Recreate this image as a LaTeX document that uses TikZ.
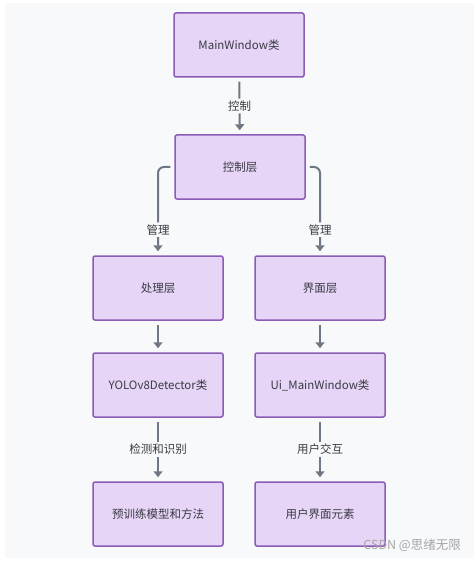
\documentclass[tikz,border=0pt]{standalone}
\usepackage{fontspec}
\setmainfont{Noto Sans CJK SC}
\usetikzlibrary{arrows.meta}
\definecolor{bgc}{HTML}{F8F9FB}
\definecolor{boxfill}{HTML}{E6D5F6}
\definecolor{boxdraw}{HTML}{8A5CB5}
\definecolor{arrc}{HTML}{6E7884}
\definecolor{txtc}{HTML}{3A3A44}
\begin{document}
\begin{tikzpicture}[x=1pt,y=-1pt,
  box/.style={draw=boxdraw, fill=boxfill, line width=1.5pt, rounded corners=2pt,
    minimum width=130pt, minimum height=64pt, inner sep=0pt,
    font=\fontsize{11.5}{13}\selectfont, text=txtc},
  arr/.style={draw=arrc, line width=2pt, shorten <=4pt, shorten >=4pt,
    -{Triangle[length=6pt,width=9pt]}, rounded corners=6pt},
  lbl/.style={fill=bgc, inner sep=2pt, text=txtc, font=\fontsize{11.5}{13}\selectfont}]
\useasboundingbox (0,0) rectangle (474,561);
\fill[white] (0,0) rectangle (474,561);
\fill[bgc] (5,3) rectangle (474,558);

\node[box] (mw) at (239,45) {MainWindow类};
\node[box] (ctl) at (240,167) {控制层};
\node[box] (proc) at (158,288) {处理层};
\node[box] (ui) at (320,288) {界面层};
\node[box] (yolo) at (158,385) {YOLOv8Detector类};
\node[box] (uimw) at (320,385) {Ui\_MainWindow类};
\node[box] (pre) at (158,514) {预训练模型和方法};
\node[box] (elem) at (320,514) {用户界面元素};

\draw[arr] (mw) -- node[lbl]{控制} (ctl);
\draw[arr] (ctl.west) -| node[lbl, pos=0.855]{管理} (proc);
\draw[arr] (ctl.east) -| node[lbl, pos=0.855]{管理} (ui);
\draw[arr] (proc) -- (yolo);
\draw[arr] (ui) -- (uimw);
\draw[arr] (yolo) -- node[lbl]{检测和识别} (pre);
\draw[arr] (uimw) -- node[lbl]{用户交互} (elem);

\node[text=black!35, font=\fontsize{12.5}{14}\selectfont, anchor=east, inner sep=0pt] (wm) at (461,545) {CSDN @思绪无限};
\end{tikzpicture}
\end{document}
